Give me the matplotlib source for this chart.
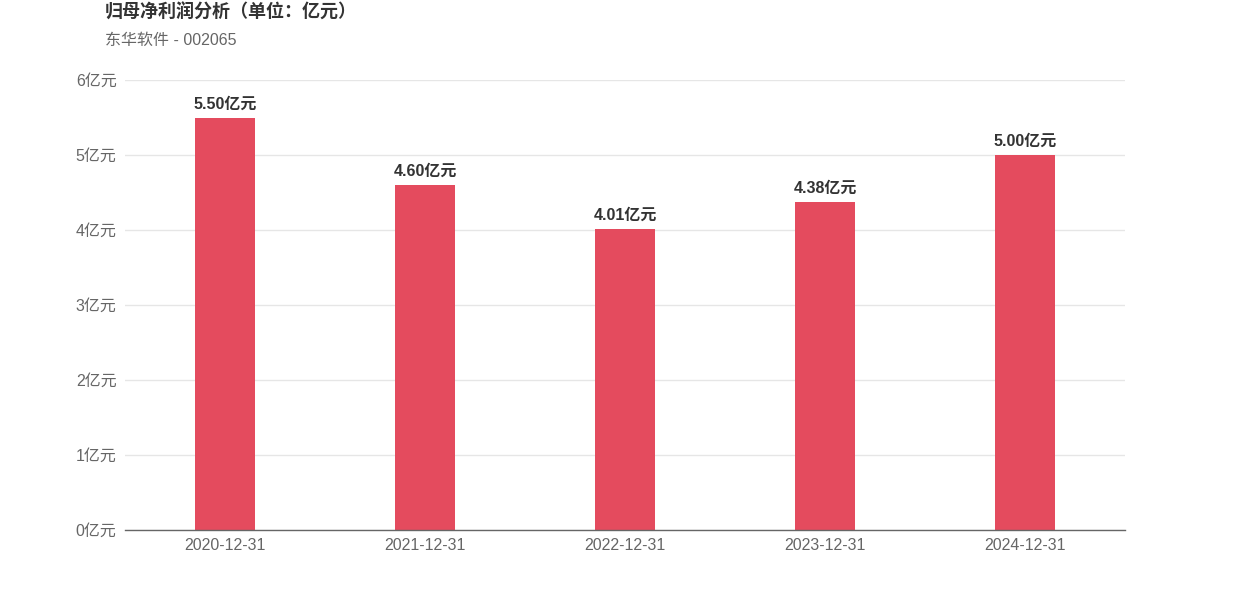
import matplotlib
matplotlib.use('Agg')
import matplotlib.pyplot as plt

plt.rcParams['font.family'] = ['Liberation Sans', 'Noto Sans CJK SC', 'DejaVu Sans']

# data
dates = ['2020-12-31', '2021-12-31', '2022-12-31', '2023-12-31', '2024-12-31']
profit = [5.50, 4.60, 4.01, 4.38, 5.00]
y_ticks = [0, 1, 2, 3, 4, 5, 6]

bar_color = '#e44b5e'

fig = plt.figure(figsize=(12.5, 6), dpi=100)
ax = fig.add_axes([0.1, 1 - 530 / 600, 0.8, 450 / 600])

x = range(len(dates))
ax.bar(x, profit, width=0.3, color=bar_color, zorder=2)

# value labels above bars
for xi, v in zip(x, profit):
    ax.text(xi, v + 0.08, f'{v:.2f}亿元', ha='center', va='bottom',
            fontsize=11.5, fontweight='bold', color='#333333')

ax.set_xlim(-0.5, len(dates) - 0.5)
ax.set_ylim(0, 6)
ax.set_yticks(y_ticks)
ax.set_yticklabels([f'{t}亿元' for t in y_ticks])
ax.set_xticks(list(x))
ax.set_xticklabels(dates)
ax.tick_params(axis='both', length=0, labelsize=11.5, labelcolor='#666666')
ax.tick_params(axis='y', pad=6)
ax.tick_params(axis='x', pad=6)
for lbl in ax.get_yticklabels():
    lbl.set_va('center_baseline')

ax.grid(axis='y', color='#e6e6e6', linewidth=1, zorder=0)
for side in ['top', 'right', 'left']:
    ax.spines[side].set_visible(False)
ax.spines['bottom'].set_color('#666666')
ax.spines['bottom'].set_linewidth(1)

fig.text(105 / 1250, 1 - 13 / 600, '归母净利润分析（单位：亿元）', ha='left', va='center',
         fontsize=13, fontweight='bold', color='#333333')
fig.text(105 / 1250, 1 - 40 / 600, '东华软件 - 002065', ha='left', va='center',
         fontsize=11.5, color='#666666')

fig.savefig('out.png', dpi=100)
